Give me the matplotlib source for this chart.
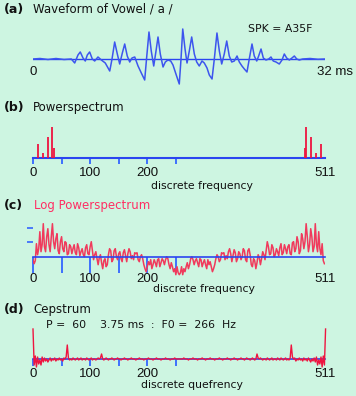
import numpy as np
import matplotlib
matplotlib.use("Agg")
import matplotlib.pyplot as plt

# (a) waveform, time in ms, amplitude in screen units
wave_t = [0, 0.77, 1.64, 2.52, 3.40, 4.20, 4.57, 4.93, 5.18, 5.48,
          5.73, 5.95, 6.21, 6.50, 6.76, 7.12, 7.49, 7.92, 8.41, 8.66,
          8.95, 9.24, 9.50, 9.79, 10.05, 10.33, 10.60, 10.85, 11.15, 11.51,
          11.87, 12.24, 12.46, 12.71, 12.96, 13.23, 13.48, 13.70, 13.95, 14.25,
          14.50, 14.79, 15.09, 15.34, 15.70, 16.03, 16.22, 16.41, 16.66, 16.88,
          17.13, 17.39, 17.68, 17.94, 18.22, 18.52, 18.77, 19.07, 19.32, 19.62,
          19.87, 20.16, 20.42, 20.68, 20.96, 21.23, 21.51, 21.78, 22.06, 22.36,
          22.61, 22.90, 23.16, 23.45, 23.70, 24.00, 24.25, 24.52, 24.73, 24.99,
          25.24, 25.53, 25.83, 26.08, 26.33, 26.63, 26.99, 27.29, 27.54, 27.80,
          28.09, 28.38, 28.64, 28.90, 29.18, 29.56, 30.36, 31.23, 32.0]
wave_amp = [0, 0.5, -0.5, 0.5, -0.5, 0, -4, 4, 7, 1,
            -2, 4, 7, 0, -2, 2, -1, -4, -12, 0,
            17, 5, -5, 6, 15, 3, -3, 1, 2, -7,
            -14, -21, 2, 27, 8, -7, 8, 22, 5, -8,
            -3, -1, -2, -6, -16, -25, 0, 30, 10, -4,
            8, 22, 5, -3, -7, -2, -4, -9, -16, -20,
            0, 26, 8, -5, 5, 18, 3, -3, -2, 3,
            -3, -7, -10, -13, 0, 15, 3, -2, 3, 10,
            1, -1, 0, 2, -2, -3, -5, -1, 5, 1,
            -1, 1, 3, 0, -1, 0, 0.5, -0.3, 0]

# (b) power spectrum lines
ps_bins = [8, 17, 26, 34, 36, 476, 478, 486, 495, 504]
ps_vals = [14, 5, 21, 31, 10, 10, 31, 21, 5, 14]

# (c) log power spectrum, bins 0..256 step 2 (symmetric about 256)
logps_half = [-3, -7, -4, 13, 2, 8, 25, 5, 12, 33,
              10, 5, 20, 28, 12, 5, 20, 33, 15, 8,
              18, 23, 6, 3, 15, 20, 8, 5, 15, 14,
              2, 3, 12, 10, 3, 8, 12, 4, 2, 13,
              9, 1, 5, 8, 2, 0, 9, 12, 3, 2,
              10, 15, 6, -3, 2, 5, -2, -8, -1, 2,
              -6, -12, -4, -2, -10, -8, 2, 8, 6, -5,
              -3, 6, 8, 0, -3, 3, 5, -2, -5, 4,
              7, 1, -5, 3, 8, 5, -2, 1, -3, 4,
              3, 4, -3, -5, 0, 2, -2, -8, -12, -15,
              -10, -5, -8, -3, -12, -8, -3, -6, -10, -3,
              -2, -10, -6, -2, -4, -8, -3, 0, -2, -8,
              -12, -6, -10, -15, -12, -18, -10, -16, -18]

# (d) cepstrum, quefrency 0..256 step 2 (symmetric about 256)
cep_half = [30, -6, 3, -8, 2, -5, -1, -6, 2, -3,
            1, -2, 0, -3, -1, 1, -2, 0, -1, 1,
            -2, 0, -1, 1, -1, 0, -2, 1, 0, 2,
            14, 1, -1, 0, -1, 1, 0, -1, 0, 1,
            -1, 0, 1, -1, 0, 0, -1, 1, 0, -1,
            0, 1, -1, 0, 0, -1, 0, 1, 0, 1,
            5, 0, -1, 0, 1, 0, -1, 0, 0, 1,
            0, -1, 0, 0, 1, 0, 0, -1, 0, 0,
            1, 0, 0, -1, 0, 0, 1, 0, 0, 0,
            -1, 0, 0, 1, 0, 0, 0, -1, 0, 0,
            0, 1, 0, 0, 0, -1, 0, 0, 1, 0,
            0, 0, -1, 0, 0, 0, 1, 0, 0, 0,
            -1, 0, 0, 0, 1, 0, 0, 0, 0]

freq_ticks = [0, 50, 100, 150, 200, 250]
freq_labels = [0, 100, 200, 511]

logps = np.array(logps_half + logps_half[-2:0:-1])
logps_k = np.arange(0, 512, 2)
cep = np.array(cep_half + cep_half[-2::-1])
cep_q = np.arange(0, 513, 2)

W, H = 356, 396
BG = '#cdf5e1'
BLUE = '#2b45f0'
TICKBLUE = '#3366ff'
RED = '#ee1540'
PINK = '#f03a5c'
NUMFONT = ['Liberation Sans', 'DejaVu Sans']
NUMSIZE = 9.5

fig = plt.figure(figsize=(W / 100, H / 100), dpi=100, facecolor=BG)


def px_axes(left, top, right, bottom):
    ax = fig.add_axes([left / W, 1 - bottom / H, (right - left) / W, (bottom - top) / H])
    ax.set_facecolor('none')
    for s in ax.spines.values():
        s.set_visible(False)
    return ax


def ftext(x, y, s, **kw):
    kw.setdefault('va', 'center')
    kw.setdefault('color', '#111111')
    fig.text(x / W, 1 - y / H, s, **kw)


def freq_axis(ax, lw, tick_len, label_y, name, name_x, name_y):
    ax.set_xlim(0, 511)
    sp = ax.spines['bottom']
    sp.set_visible(True)
    sp.set_position(('data', 0))
    sp.set_color(BLUE)
    sp.set_linewidth(lw)
    ax.set_xticks(freq_ticks)
    ax.tick_params(axis='x', direction='out', length=tick_len * 0.72, width=1.3,
                   color=TICKBLUE, labelbottom=False)
    for v in freq_labels:
        ax.text(v, label_y, str(v), ha='center', va='center', fontsize=NUMSIZE,
                family=NUMFONT, color='#111111', clip_on=False)
    ftext(name_x, name_y, name, ha='center', fontsize=7.8)


# (a) waveform
ax_a = px_axes(33, 25, 325, 90)
ax_a.set_xlim(0, 32)
ax_a.set_ylim(-31, 34)
ax_a.set_xticks([])
ax_a.set_yticks([])
ax_a.axhline(0, color=BLUE, lw=1.0)
ax_a.plot(wave_t, wave_amp, color='#3d55ee', lw=1.1)
ftext(4, 10, '(a)', fontsize=9, fontweight='bold')
ftext(33, 9.5, 'Waveform of Vowel / a /', fontsize=8.5)
ftext(248, 28.5, 'SPK = A35F', fontsize=7.8)
ftext(33, 72, '0', ha='center', fontsize=NUMSIZE, family=NUMFONT)
ftext(317, 72, '32 ms', fontsize=NUMSIZE, family=NUMFONT)

# (b) power spectrum
ax_b = px_axes(33, 120, 325, 170)
ax_b.set_ylim(-12, 38)
ax_b.set_yticks([])
ax_b.vlines(ps_bins, 0, ps_vals, color=RED, lw=1.3, zorder=3)
freq_axis(ax_b, 1.5, 6, -15.3, 'discrete frequency', 202, 186)
ftext(4, 107, '(b)', fontsize=9, fontweight='bold')
ftext(33, 107, 'Powerspectrum', fontsize=8.5)

# (c) log power spectrum
ax_c = px_axes(33, 220, 325, 280)
ax_c.set_ylim(-23.3, 36.7)
ax_c.plot(logps_k, logps, color=PINK, lw=1.1, zorder=2)
freq_axis(ax_c, 1.2, 16, -22.3, 'discrete frequency', 204, 289)
ax_c.set_yticks([15, 29])
ax_c.tick_params(axis='y', direction='out', length=4, width=1.2,
                 color=TICKBLUE, labelleft=False, pad=0)
ftext(4, 205.5, '(c)', fontsize=9, fontweight='bold')
ftext(34, 205.5, 'Log Powerspectrum', fontsize=8.5, color='#ff2e63')

# (d) cepstrum
ax_d = px_axes(33, 325, 325, 372)
ax_d.set_ylim(-13, 34)
ax_d.set_yticks([])
ax_d.plot(cep_q, cep, color=RED, lw=1.0, zorder=3, clip_on=False)
freq_axis(ax_d, 1.2, 7, -15, 'discrete quefrency', 192, 385)
ftext(4, 309, '(d)', fontsize=9, fontweight='bold')
ftext(33, 309, 'Cepstrum', fontsize=8.5)
ftext(46, 325, 'P =  60    3.75 ms  :  F0 =  266  Hz', fontsize=7.8)

fig.savefig('out.png', dpi=100, facecolor=BG)
